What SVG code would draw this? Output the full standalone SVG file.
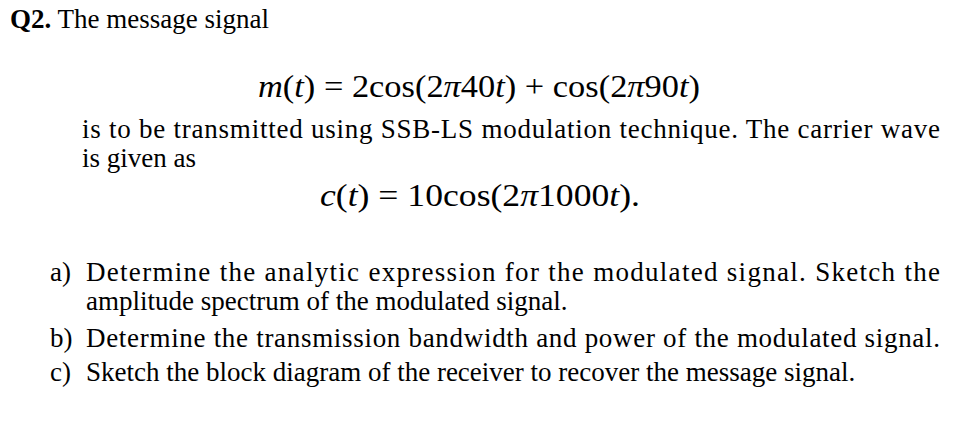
<svg xmlns="http://www.w3.org/2000/svg" width="974" height="429" viewBox="0 0 974 429">
<style>
text{font-family:"Liberation Serif","Times New Roman",serif;font-size:27px;fill:#000}
.eq{font-size:31px}
.i{font-style:italic}
</style>
<rect width="974" height="429" fill="#fff"/>
<text x="10" y="28"><tspan font-weight="bold">Q2.</tspan> The message signal</text>
<text class="eq" x="258" y="97" textLength="442" lengthAdjust="spacingAndGlyphs"><tspan class="i">m</tspan>(<tspan class="i">t</tspan>) = 2cos(2<tspan class="i">π</tspan>40<tspan class="i">t</tspan>) + cos(2<tspan class="i">π</tspan>90<tspan class="i">t</tspan>)</text>
<text x="82" y="138" textLength="858">is to be transmitted using SSB-LS modulation technique. The carrier wave</text>
<text x="82" y="167">is given as</text>
<text class="eq" x="320" y="206" textLength="320" lengthAdjust="spacingAndGlyphs"><tspan class="i">c</tspan>(<tspan class="i">t</tspan>) = 10cos(2<tspan class="i">π</tspan>1000<tspan class="i">t</tspan>).</text>
<text x="50" y="281">a)</text>
<text x="86" y="281" textLength="854">Determine the analytic expression for the modulated signal. Sketch the</text>
<text x="86" y="310">amplitude spectrum of the modulated signal.</text>
<text x="50" y="347">b)</text>
<text x="86" y="347" textLength="854">Determine the transmission bandwidth and power of the modulated signal.</text>
<text x="50" y="381">c)</text>
<text x="86" y="381">Sketch the block diagram of the receiver to recover the message signal.</text>
</svg>
